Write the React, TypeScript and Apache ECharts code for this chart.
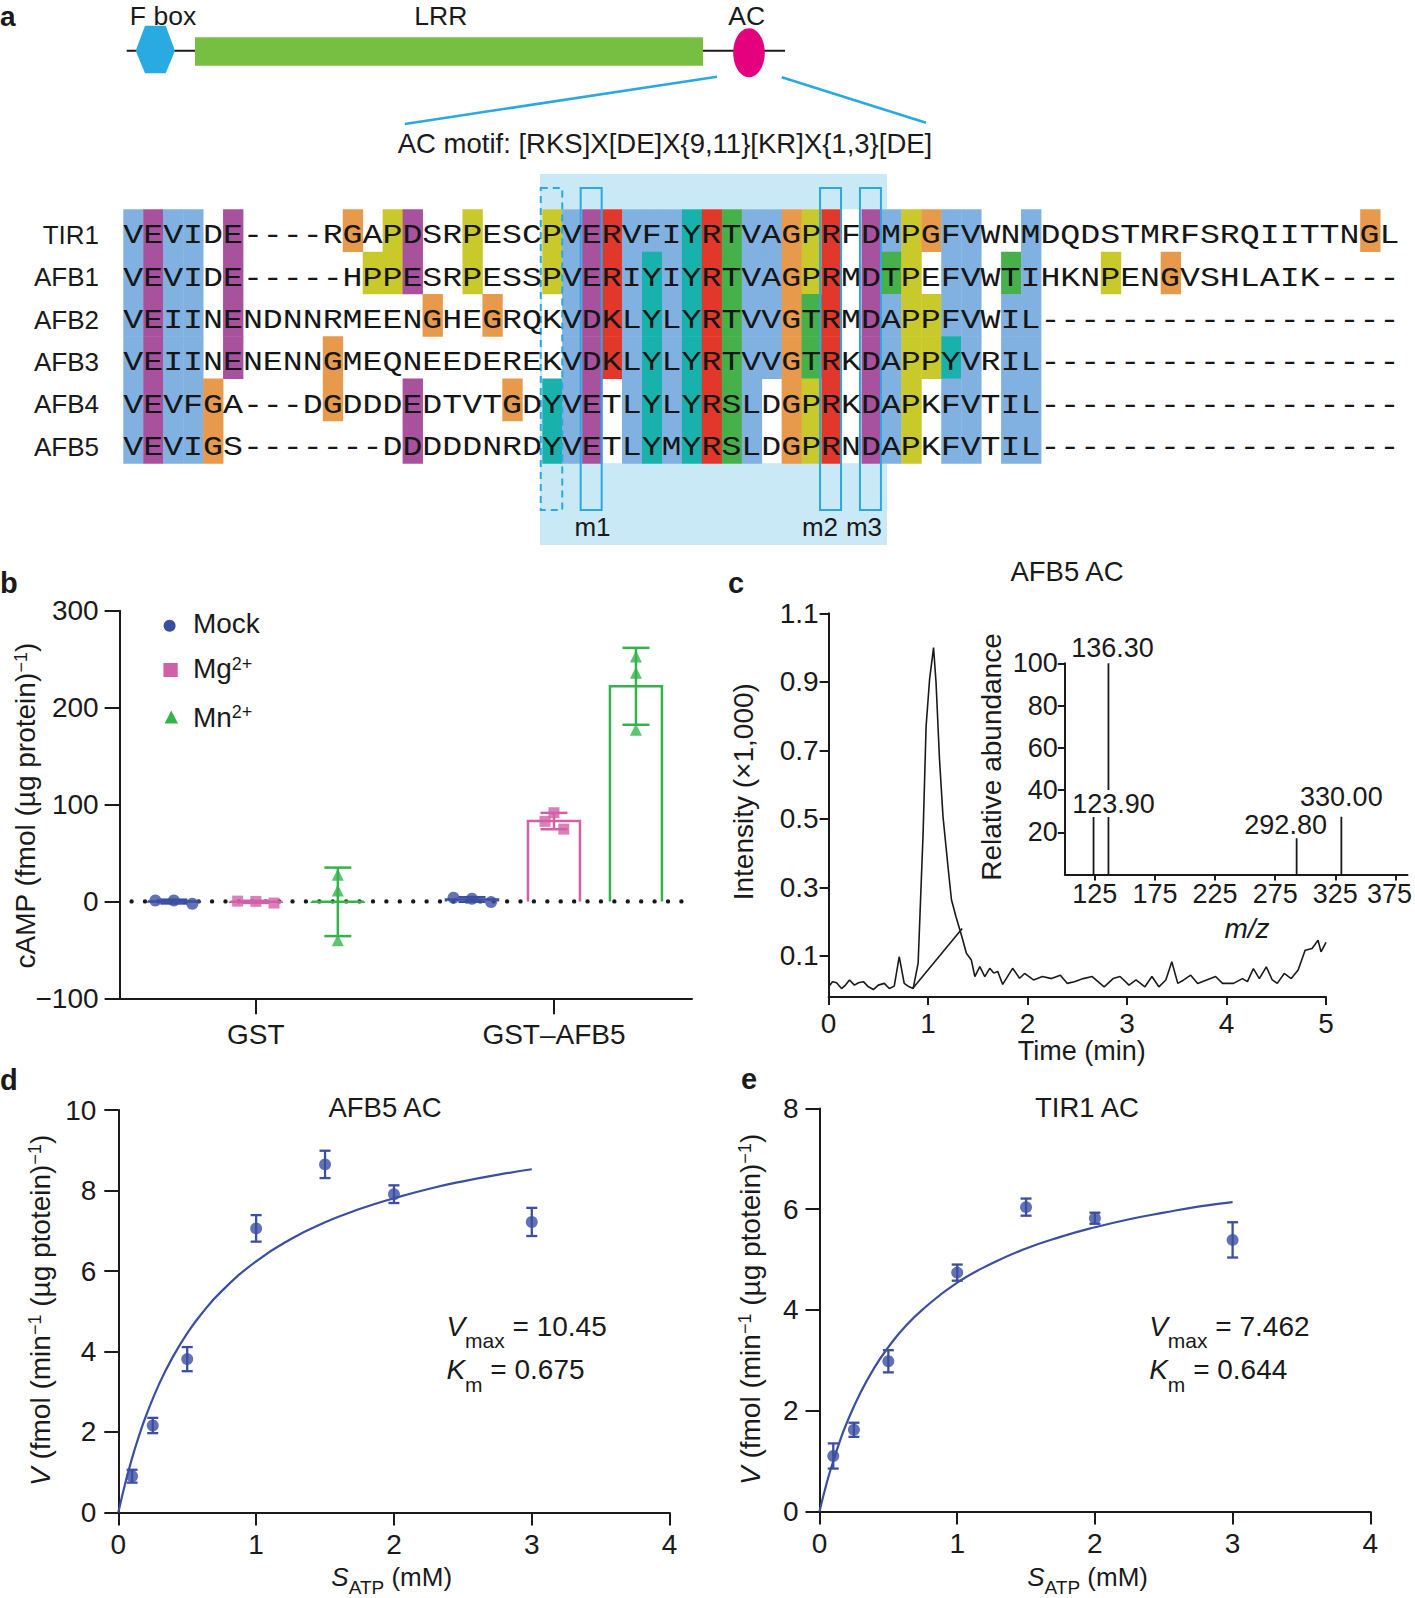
import React, { useEffect, useRef } from "react";
import * as echarts from "echarts";

// ================= DATA =================
// Panel a: alignment
const SEQ_NAMES = ["TIR1", "AFB1", "AFB2", "AFB3", "AFB4", "AFB5"];
const SEQUENCES = [
  "VEVIDE----RGAPDSRPESCPVERVFIYRTVAGPRFDMPGFVWNMDQDSTMRFSRQIITTNGL",
  "VEVIDE-----HPPESRPESSPVERIYIYRTVAGPRMDTPEFVWTIHKNPENGVSHLAIK----",
  "VEIINENDNNRMEENGHEGRQKVDKLYLYRTVVGTRMDAPPFVWIL------------------",
  "VEIINENENNGMEQNEEDEREKVDKLYLYRTVVGTRKDAPPYVRIL------------------",
  "VEVFGA---DGDDDEDTVTGDYVETLYLYRSLDGPRKDAPKFVTIL------------------",
  "VEVIGS-------DDDDDNRDYVETLYMYRSLDGPRNDAPKFVTIL------------------",
];
// residue colour classes, 10 columns per chunk
// (b hydrophobic, p acidic, r basic, g polar, t aromatic, o glycine, y proline)
const SEQ_CLASSES = [
  ["bpbb.p....", ".o.yp..y..", ".ybprbbbtr", "gbboyr.pby", "obb..b....", "..........", "..o."].join(""),
  ["bpbb.p....", "..yyp..y..", ".ybprbtbtr", "gbboyr.pgy", ".bb.gb...y", "..o.......", "...."].join(""),
  ["bpbb.p....", ".....o..o.", "..bprbtbtr", "gbbogr.pby", "ybb.bb....", "..........", "...."].join(""),
  ["bpbb.p....", "o.........", "..bprbtbtr", "gbbogr.pby", "ytb.bb....", "..........", "...."].join(""),
  ["bpbbo.....", "o...p....o", ".tbp.btbtr", "gb.oyr.pby", ".bb.bb....", "..........", "...."].join(""),
  ["bpbbo.....", "....p.....", ".tbp.btbtr", "gb.oyr.pby", ".bb.bb....", "..........", "...."].join(""),
];
const DOMAIN_LABELS = ["F box", "LRR", "AC"];
const MOTIF_TEXT = "AC motif: [RKS]X[DE]X{9,11}[KR]X{1,3}[DE]";
const MUTANT_LABELS = ["m1", "m2", "m3"];
const MUTANT_COLUMNS = [24, 36, 38]; // 1-based alignment columns
const DASHED_COLUMN = 22;

// Panel b
const B_GROUPS = ["GST", "GST\u2013AFB5"];
const B_CONDITIONS = ["Mock", "Mg", "Mn"];
const B_MOCK = [[1.0, 0.9, -2.4], [3.8, 2.8, -0.7]];
const B_MG = [[0.3, 0.0, -1.7], [91.5, 82.6, 74.6]];
const B_MN = [[27.5, 11.3, -40.2], [252.8, 236.0, 177.2]];

// Panel c
const C_TIME = [0, 0.04, 0.08, 0.13, 0.17, 0.21, 0.26, 0.3, 0.35, 0.4, 0.45, 0.5, 0.56, 0.61, 0.66, 0.71, 0.76, 0.81, 0.85, 0.9, 0.95, 0.98, 1.015, 1.055, 1.08, 1.115, 1.15, 1.2, 1.235, 1.28, 1.34, 1.385, 1.435, 1.47, 1.52, 1.57, 1.62, 1.66, 1.7, 1.75, 1.85, 1.92, 1.97, 2.06, 2.15, 2.24, 2.33, 2.4, 2.47, 2.56, 2.65, 2.77, 2.86, 2.93, 3.02, 3.09, 3.18, 3.25, 3.32, 3.39, 3.45, 3.51, 3.57, 3.64, 3.71, 3.8, 3.89, 3.96, 4.07, 4.16, 4.21, 4.27, 4.33, 4.4, 4.46, 4.51, 4.58, 4.65, 4.72, 4.79, 4.86, 4.92, 4.95, 5.0];
const C_INTENSITY = [0.01, 0.025, 0.022, 0.005, 0.015, 0.03, 0.015, 0.022, 0.025, 0.01, 0.002, 0.015, 0.02, 0.005, 0.012, 0.098, 0.02, 0.01, 0.005, 0.079, 0.458, 0.77, 0.907, 1.0, 0.898, 0.673, 0.507, 0.361, 0.264, 0.215, 0.156, 0.108, 0.088, 0.04, 0.069, 0.04, 0.064, 0.05, 0.055, 0.017, 0.064, 0.035, 0.049, 0.03, 0.04, 0.034, 0.044, 0.02, 0.025, 0.034, 0.04, 0.01, 0.034, 0.04, 0.015, 0.03, 0.01, 0.04, 0.01, 0.03, 0.083, 0.02, 0.03, 0.044, 0.02, 0.03, 0.04, 0.02, 0.02, 0.034, 0.025, 0.063, 0.034, 0.068, 0.03, 0.02, 0.049, 0.034, 0.059, 0.117, 0.122, 0.146, 0.112, 0.14];
const C_BASELINE_TIME = [0.847, 1.343];
const C_BASELINE_INT = [0.006, 0.18];
const C_PEAK_LABEL = "136.30";
const C_Y_TICKS = [0.1, 0.3, 0.5, 0.7, 0.9, 1.1];
const MS_MZ = [123.9, 136.3, 292.8, 330.0];
const MS_ABUND = [31.7, 100, 17.9, 27.4];
const MS_X_TICKS = [125, 175, 225, 275, 325, 375];
const MS_Y_TICKS = [20, 40, 60, 80, 100];

// Panels d, e
const S_ATP = [0.1, 0.25, 0.5, 1, 1.5, 2, 3];
const D_V = [0.9, 2.16, 3.81, 7.06, 8.65, 7.91, 7.22];
const D_ERR = [0.16, 0.19, 0.3, 0.33, 0.34, 0.22, 0.35];
const E_V = [1.1, 1.62, 2.98, 4.74, 6.04, 5.82, 5.39];
const E_ERR = [0.25, 0.14, 0.22, 0.16, 0.17, 0.11, 0.35];
const FIT_S = [0, 0.05, 0.1, 0.15, 0.2, 0.3, 0.4, 0.5, 0.6, 0.75, 1, 1.25, 1.5, 1.75, 2, 2.25, 2.5, 2.75, 3];
const D_FIT_V = [0, 0.72, 1.35, 1.9, 2.39, 3.22, 3.89, 4.45, 4.92, 5.5, 6.24, 6.79, 7.21, 7.54, 7.81, 8.04, 8.23, 8.39, 8.53];
const E_FIT_V = [0, 0.54, 1.0, 1.41, 1.77, 2.37, 2.86, 3.26, 3.6, 4.01, 4.54, 4.92, 5.22, 5.45, 5.64, 5.8, 5.93, 6.05, 6.14];
const D_PARAMS = ["10.45", "0.675"];
const E_PARAMS = ["7.462", "0.644"];

// ================= STYLE =================
const FONT = '"Liberation Sans", Arial, Helvetica, sans-serif';
const MONO = '"Liberation Mono", "Courier New", monospace';
const INK = "#1a1a1a";
const CLASS_COLOURS: Record<string, string> = {
  b: "#80b1e1", p: "#a8529e", r: "#e2372b", g: "#46b04b", t: "#18b1ac", o: "#e89a4c", y: "#c9c92c",
};
const CYAN = "#29a9e0";
const B_COLOURS = ["#3b4fa2", "#d260a7", "#33b44a"];
const B_SYMBOLS = ["circle", "rect", "triangle"];
const B_OFFSET = [-0.275, 0, 0.275];
const B_JITTER = [
  [[-0.062, 0, 0.062], [-0.062, 0, 0.064]],
  [[-0.061, 0, 0.061], [0, -0.03, 0.033]],
  [[0, 0, 0], [0, 0, 0]],
];
const KIN_BLUE = "#3b4fa2";
const MS_LABEL_OFFSET = [[20, -4], [4, -15], [-11, -12], [0, -20]];
const TICK_FS = 28;

const AL = { x0: 123.3, cw: 19.95, y0: 209.3, rh: 42.33 };
const colLeft = (c1: number) => AL.x0 + (c1 - 1) * AL.cw;

function txt(x: number, y: number, text: string, o: any = {}) {
  const { rotation, scaleX, ...style } = o;
  const el: any = {
    type: "text", x, y,
    style: {
      text, fill: INK, fontSize: 27, fontFamily: FONT,
      align: "center", verticalAlign: "middle", textAlign: "center", textVerticalAlign: "middle",
      ...style,
    },
  };
  if (style.align) el.style.textAlign = style.align;
  if (style.verticalAlign) el.style.textVerticalAlign = style.verticalAlign;
  if (rotation != null) el.rotation = rotation;
  if (scaleX != null) el.scaleX = scaleX;
  return el;
}

const tok = (size: number, extra: any = {}) => ({ fontSize: size, fontFamily: FONT, fill: INK, color: INK, ...extra });
const RICH = {
  n: tok(28, { lineHeight: 32, verticalAlign: "top" }),
  i: tok(28, { lineHeight: 32, verticalAlign: "top", fontStyle: "italic" }),
  sup: tok(18, { lineHeight: 18, verticalAlign: "top" }),
  sub: tok(21, { lineHeight: 21, verticalAlign: "top", padding: [18, 0, 0, 0] }),
  nx: tok(26, { lineHeight: 30, verticalAlign: "top" }),
  ix: tok(26, { lineHeight: 30, verticalAlign: "top", fontStyle: "italic" }),
  subx: tok(19, { lineHeight: 19, verticalAlign: "top", padding: [14, 0, 0, 0] }),
};

function valAxis(gridIndex: number, min: number, max: number, o: any) {
  const a: any = {
    type: "value", gridIndex, min, max,
    axisLine: { show: true, onZero: false, lineStyle: { color: INK, width: 2 } },
    axisTick: { show: true, length: o.tickLen, lineStyle: { color: INK, width: 2 } },
    axisLabel: { show: true, color: INK, fontSize: o.fontSize || TICK_FS, fontFamily: FONT, margin: o.margin },
    splitLine: { show: false },
  };
  if (o.interval != null) a.interval = o.interval;
  if (o.ticks) { a.axisTick.customValues = o.ticks; a.axisLabel.customValues = o.ticks; }
  if (o.formatter) a.axisLabel.formatter = o.formatter;
  if (o.rich) a.axisLabel.rich = o.rich;
  return a;
}

function mean(a: number[]) { return a.reduce((s, v) => s + v, 0) / a.length; }
function sd(a: number[]) { const m = mean(a); return Math.sqrt(a.reduce((s, v) => s + (v - m) * (v - m), 0) / (a.length - 1)); }

function buildOption() {
  const els: any[] = [];

  // ---------- Panel a: domains ----------
  els.push(txt(0, 16.5, "a", { fontSize: 28, fontWeight: "bold", align: "left" }));
  els.push({ type: "line", shape: { x1: 126.7, y1: 50.7, x2: 785, y2: 50.7 }, style: { stroke: INK, lineWidth: 2 } });
  els.push({ type: "polygon", shape: { points: [[135.7, 50.7], [145, 25.7], [165.7, 25.7], [175, 50.7], [165.7, 73.3], [145, 73.3]] }, style: { fill: "#29abe2" } });
  els.push({ type: "rect", shape: { x: 195, y: 37.3, width: 508, height: 28.4 }, style: { fill: "#77bf43" } });
  els.push({ type: "ellipse", shape: { cx: 749, cy: 52.8, rx: 15.8, ry: 24.5 }, style: { fill: "#e5007e" } });
  els.push({ type: "line", shape: { x1: 717, y1: 76.7, x2: 404.8, y2: 124 }, style: { stroke: CYAN, lineWidth: 2.5 } });
  els.push({ type: "line", shape: { x1: 781.8, y1: 77.3, x2: 926, y2: 122.7 }, style: { stroke: CYAN, lineWidth: 2.5 } });
  const domX = [163, 440.8, 746.7];
  DOMAIN_LABELS.forEach((l, i) => els.push(txt(domX[i], 16, l, { fontSize: 26.5 })));
  els.push(txt(665, 143.3, MOTIF_TEXT, { fontSize: 27.5 }));

  // ---------- Panel a: alignment ----------
  els.push({ type: "rect", shape: { x: 540, y: 174, width: 347, height: 371 }, style: { fill: "#c9e9f6" } });
  els.push({ type: "rect", shape: { x: colLeft(DASHED_COLUMN), y: AL.y0, width: 887 - colLeft(DASHED_COLUMN), height: AL.rh * SEQUENCES.length }, style: { fill: "#ffffff" } });
  SEQ_CLASSES.forEach((row, r) => {
    for (let c = 0; c < SEQUENCES[r].length; c++) {
      const cls = row[c];
      if (cls && CLASS_COLOURS[cls]) {
        els.push({ type: "rect", shape: { x: colLeft(c + 1), y: AL.y0 + r * AL.rh, width: AL.cw + 0.4, height: AL.rh + 0.4 }, style: { fill: CLASS_COLOURS[cls] } });
      }
    }
  });
  els.push({ type: "rect", shape: { x: colLeft(DASHED_COLUMN) - 1.5, y: 188, width: 21.5, height: 322 }, style: { fill: "none", stroke: CYAN, lineWidth: 2, lineDash: [7, 5] } });
  MUTANT_COLUMNS.forEach((c) => {
    els.push({ type: "rect", shape: { x: colLeft(c) - 1.5, y: 188, width: 21, height: 322 }, style: { fill: "none", stroke: CYAN, lineWidth: 2 } });
  });
  const mutX = [592.5, 820, 864];
  MUTANT_LABELS.forEach((l, i) => els.push(txt(mutX[i], 527, l, { fontSize: 26 })));
  const monoSize = 28;
  const sx = AL.cw / (0.6001 * monoSize);
  SEQUENCES.forEach((s, r) => {
    const cy = AL.y0 + AL.rh * (r + 0.5);
    els.push(txt(AL.x0, cy + 5, s, { fontFamily: MONO, fontSize: monoSize, align: "left", scaleX: sx, fill: "#161616" }));
    els.push(txt(99, cy + 4.5, SEQ_NAMES[r], { align: "right", fontSize: 26 }));
  });

  // ---------- Panel b decorations ----------
  els.push(txt(0, 583, "b", { fontSize: 29, fontWeight: "bold", align: "left" }));
  els.push(txt(27.7, 805.7, "{n|cAMP (fmol (\u00b5g protein)}{sup|\u22121}{n|)}", { rich: RICH, rotation: Math.PI / 2 }));
  els.push({ type: "circle", shape: { cx: 169.6, cy: 625.7, r: 6 }, style: { fill: B_COLOURS[0] } });
  els.push({ type: "rect", shape: { x: 163.4, y: 663, width: 14.3, height: 14 }, style: { fill: B_COLOURS[1] } });
  els.push({ type: "polygon", shape: { points: [[171.3, 710.5], [178, 723.5], [164.6, 723.5]] }, style: { fill: B_COLOURS[2] } });
  els.push(txt(192.9, 625.5, "{n|Mock}", { rich: RICH, align: "left" }));
  els.push(txt(192.9, 670.8, "{n|Mg}{sup|2+}", { rich: RICH, align: "left" }));
  els.push(txt(192.9, 719, "{n|Mn}{sup|2+}", { rich: RICH, align: "left" }));

  // ---------- Panel c decorations ----------
  els.push(txt(728, 582.5, "c", { fontSize: 29, fontWeight: "bold", align: "left" }));
  els.push(txt(1067, 571, "AFB5 AC", { fontSize: 27.5 }));
  els.push(txt(743.3, 791.7, "Intensity (\u00d71,000)", { rotation: Math.PI / 2, fontSize: 28 }));
  els.push(txt(1081.8, 1051, "Time (min)", { fontSize: 27 }));
  els.push(txt(991.7, 757, "Relative abundance", { rotation: Math.PI / 2, fontSize: 28 }));
  els.push(txt(1247, 928, "m/z", { fontStyle: "italic", fontSize: 28 }));

  // ---------- Panel d / e decorations ----------
  els.push(txt(0, 1079.7, "d", { fontSize: 29, fontWeight: "bold", align: "left" }));
  els.push(txt(741, 1079, "e", { fontSize: 29, fontWeight: "bold", align: "left" }));
  els.push(txt(385, 1107, "AFB5 AC", { fontSize: 27.5 }));
  els.push(txt(1087, 1107, "TIR1 AC", { fontSize: 27.5 }));
  const yName = "{i|V}{n| (fmol (min}{sup|\u22121}{n| (\u00b5g ptotein)}{sup|\u22121}{n|)}";
  els.push(txt(42.4, 1310.4, yName, { rich: RICH, rotation: Math.PI / 2 }));
  els.push(txt(752.4, 1309.4, yName, { rich: RICH, rotation: Math.PI / 2 }));
  const xName = "{ix|S}{subx|ATP}{nx| (mM)}";
  els.push(txt(391.7, 1563.5, xName, { rich: RICH, verticalAlign: "top" }));
  els.push(txt(1087.6, 1563.5, xName, { rich: RICH, verticalAlign: "top" }));
  els.push(txt(446.4, 1312, `{i|V}{sub|max}{n| = ${D_PARAMS[0]}}`, { rich: RICH, align: "left", verticalAlign: "top" }));
  els.push(txt(446.4, 1355.5, `{i|K}{sub|m}{n| = ${D_PARAMS[1]}}`, { rich: RICH, align: "left", verticalAlign: "top" }));
  els.push(txt(1149.2, 1312, `{i|V}{sub|max}{n| = ${E_PARAMS[0]}}`, { rich: RICH, align: "left", verticalAlign: "top" }));
  els.push(txt(1149.2, 1355.5, `{i|K}{sub|m}{n| = ${E_PARAMS[1]}}`, { rich: RICH, align: "left", verticalAlign: "top" }));

  // ================= grids & axes =================
  const grid = [
    { left: 119.6, top: 610.7, width: 572.4, height: 387.6 },
    { left: 828.6, top: 613.3, width: 497.4, height: 383.8 },
    { left: 1064.8, top: 663.3, width: 344.2, height: 211.3 },
    { left: 118.3, top: 1110.1, width: 551.3, height: 402.3 },
    { left: 819.5, top: 1108.4, width: 550.8, height: 403 },
  ];
  const lastMs = MS_X_TICKS[MS_X_TICKS.length - 1];
  const xAxis = [
    valAxis(0, 0.543, 2.463, { tickLen: 16, margin: 22, ticks: [1, 2], formatter: (v: number) => B_GROUPS[Math.round(v) - 1] || "" }),
    valAxis(1, 0, 5, { tickLen: 8, margin: 12, interval: 1 }),
    valAxis(2, 100, 385, {
      tickLen: 6, margin: 6, ticks: MS_X_TICKS, fontSize: 27,
      formatter: (v: number) => (v === lastMs ? `{edge|${v}}` : String(v)),
      rich: { edge: { fontSize: 27, fontFamily: FONT, color: INK, padding: [0, 12, 0, 0] } },
    }),
    valAxis(3, 0, 4, { tickLen: 13, margin: 18, interval: 1 }),
    valAxis(4, 0, 4, { tickLen: 13, margin: 18, interval: 1 }),
  ];
  const yAxis = [
    valAxis(0, -100, 300, { tickLen: 15, margin: 21, interval: 100, formatter: (v: number) => (v < 0 ? "\u2212" + Math.abs(v) : String(v)) }),
    valAxis(1, -0.02, 1.1, { tickLen: 9, margin: 10, ticks: C_Y_TICKS, formatter: (v: number) => v.toFixed(1) }),
    valAxis(2, 0, 100, { tickLen: 7, margin: 7, ticks: MS_Y_TICKS, fontSize: 27 }),
    valAxis(3, 0, 10, { tickLen: 14, margin: 22, interval: 2 }),
    valAxis(4, 0, 8, { tickLen: 14, margin: 21, interval: 2 }),
  ];

  // ================= series =================
  const series: any[] = [];
  // panel b
  series.push({
    type: "line", xAxisIndex: 0, yAxisIndex: 0, data: [[0.543, 0], [2.463, 0]], symbol: "none", z: 1,
    lineStyle: { color: INK, width: 4.4, type: [0.01, 13.4], cap: "round", dashOffset: -12 }, silent: true,
  });
  [B_MOCK, B_MG, B_MN].forEach((pts, ci) => {
    const color = B_COLOURS[ci];
    const barData = pts.map((g, gi) => [gi + 1 + B_OFFSET[ci], mean(g), sd(g)]);
    series.push({
      type: "custom", name: B_CONDITIONS[ci], xAxisIndex: 0, yAxisIndex: 0, z: 2, data: barData,
      renderItem: (params: any, api: any) => {
        const x = api.value(0), m = api.value(1), s = api.value(2);
        const base = api.coord([x, 0]), top = api.coord([x, m]);
        const hi = api.coord([x, m + s]), lo = api.coord([x, m - s]);
        const hw = 26, cw = 13.5;
        const st = { stroke: color, lineWidth: 2.5, fill: "none" };
        return {
          type: "group", children: [
            { type: "polyline", shape: { points: [[base[0] - hw, base[1]], [base[0] - hw, top[1]], [base[0] + hw, top[1]], [base[0] + hw, base[1]]] }, style: st },
            { type: "line", shape: { x1: hi[0], y1: hi[1], x2: lo[0], y2: lo[1] }, style: st },
            { type: "line", shape: { x1: hi[0] - cw, y1: hi[1], x2: hi[0] + cw, y2: hi[1] }, style: st },
            { type: "line", shape: { x1: lo[0] - cw, y1: lo[1], x2: lo[0] + cw, y2: lo[1] }, style: st },
          ],
        };
      },
    });
    const scatter: number[][] = [];
    pts.forEach((g, gi) => g.forEach((v, k) => scatter.push([gi + 1 + B_OFFSET[ci] + B_JITTER[ci][gi][k], v])));
    series.push({
      type: "scatter", xAxisIndex: 0, yAxisIndex: 0, z: 3, data: scatter,
      symbol: B_SYMBOLS[ci], symbolSize: ci === 1 ? 11 : 12, itemStyle: { color },
    });
  });

  // panel c
  let peakIdx = 0;
  C_INTENSITY.forEach((v, i) => { if (v > C_INTENSITY[peakIdx]) peakIdx = i; });
  const chrom = C_TIME.map((t, i) => i === peakIdx
    ? { value: [t, C_INTENSITY[i]], label: { show: true, formatter: C_PEAK_LABEL, position: "top", distance: 3, fontSize: 27, fontFamily: FONT, color: INK } }
    : [t, C_INTENSITY[i]]);
  series.push({ type: "line", xAxisIndex: 1, yAxisIndex: 1, data: chrom, symbol: "none", showSymbol: false, lineStyle: { color: INK, width: 1.6 }, z: 3 });
  series.push({ type: "line", xAxisIndex: 1, yAxisIndex: 1, data: C_BASELINE_TIME.map((t, i) => [t, C_BASELINE_INT[i]]), symbol: "none", lineStyle: { color: INK, width: 1.6 }, z: 3 });
  const msData = MS_MZ.map((m, i) => [m, MS_ABUND[i]]);
  series.push({
    type: "custom", xAxisIndex: 2, yAxisIndex: 2, data: msData, z: 3,
    renderItem: (params: any, api: any) => {
      const p0 = api.coord([api.value(0), 0]), p1 = api.coord([api.value(0), api.value(1)]);
      return { type: "line", shape: { x1: p0[0], y1: p0[1], x2: p1[0], y2: p1[1] }, style: { stroke: INK, lineWidth: 1.8 } };
    },
  });
  series.push({
    type: "custom", xAxisIndex: 2, yAxisIndex: 2, data: msData, z: 4,
    renderItem: (params: any, api: any) => {
      const p = api.coord([api.value(0), api.value(1)]);
      const off = MS_LABEL_OFFSET[params.dataIndex];
      return {
        type: "text", x: p[0] + off[0], y: p[1] + off[1],
        style: {
          text: MS_MZ[params.dataIndex].toFixed(2), fill: INK, fontSize: 27, fontFamily: FONT,
          align: "center", verticalAlign: "middle", textAlign: "center", textVerticalAlign: "middle",
          backgroundColor: "#ffffff", padding: [0, 1],
        },
      };
    },
  });

  // panels d, e
  const kin = (axis: number, V: number[], E: number[], FIT: number[]) => {
    series.push({
      type: "line", xAxisIndex: axis, yAxisIndex: axis, data: FIT_S.map((s, i) => [s, FIT[i]]),
      smooth: true, symbol: "none", lineStyle: { color: KIN_BLUE, width: 2.2 }, z: 2,
    });
    series.push({
      type: "custom", xAxisIndex: axis, yAxisIndex: axis, z: 3, data: S_ATP.map((s, i) => [s, V[i], E[i]]),
      renderItem: (params: any, api: any) => {
        const x = api.value(0), v = api.value(1), e = api.value(2);
        const hi = api.coord([x, v + e]), lo = api.coord([x, v - e]);
        const cw = 5.5;
        const st = { stroke: KIN_BLUE, lineWidth: 2.3 };
        return {
          type: "group", children: [
            { type: "line", shape: { x1: hi[0], y1: hi[1], x2: lo[0], y2: lo[1] }, style: st },
            { type: "line", shape: { x1: hi[0] - cw, y1: hi[1], x2: hi[0] + cw, y2: hi[1] }, style: st },
            { type: "line", shape: { x1: lo[0] - cw, y1: lo[1], x2: lo[0] + cw, y2: lo[1] }, style: st },
          ],
        };
      },
    });
    series.push({
      type: "scatter", xAxisIndex: axis, yAxisIndex: axis, z: 4, data: S_ATP.map((s, i) => [s, V[i]]),
      symbol: "circle", symbolSize: 12, itemStyle: { color: KIN_BLUE },
    });
  };
  kin(3, D_V, D_ERR, D_FIT_V);
  kin(4, E_V, E_ERR, E_FIT_V);

  return {
    animation: false,
    backgroundColor: "#ffffff",
    textStyle: { fontFamily: FONT },
    grid, xAxis, yAxis, series,
    graphic: { elements: els },
  };
}

export default function App() {
  const ref = useRef<HTMLDivElement>(null);
  useEffect(() => {
    document.body.style.margin = "0";
    document.body.style.overflow = "hidden";
    const chart = echarts.init(ref.current!, null, { renderer: "svg", width: 1415, height: 1598 });
    chart.setOption(buildOption() as any);
    return () => chart.dispose();
  }, []);
  return <div ref={ref} style={{ width: 1415, height: 1598, background: "#fff" }} />;
}
